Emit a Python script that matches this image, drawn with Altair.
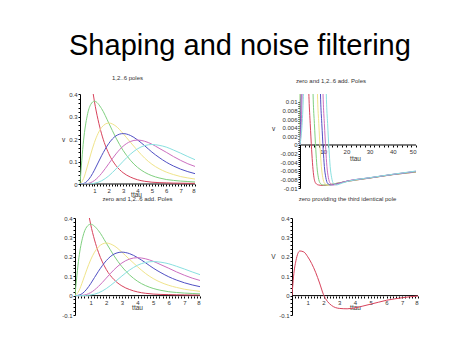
import json
import altair as alt
import pandas as pd

MAIN_TITLE = "Shaping and noise filtering"
SERIES = ["n0", "n1", "n2", "n3", "n4", "n5"]
COLORS = ["#d8435c", "#80d080", "#f0e48a", "#5050c4", "#cc6fc0", "#88e0e0"]

# ---- panels 1 and 3: 1,2..6 poles, t = 0..8 ----
T = [0, 0.25, 0.5, 0.75, 1, 1.5, 2, 2.5, 3, 3.5, 4, 4.5, 5, 5.5, 6, 6.5, 7, 7.5, 8]
RED_T = [0.92, 1, 1.25, 1.5, 2, 2.5, 3, 3.5, 4, 4.5, 5, 5.5, 6, 6.5, 7, 7.5, 8]
RED_V = [0.4, 0.368, 0.287, 0.223, 0.135, 0.082, 0.050, 0.031, 0.019, 0.012, 0.008,
         0.006, 0.005, 0.004, 0.0035, 0.003, 0.003]
N1 = [0, 0.195, 0.303, 0.354, 0.368, 0.335, 0.271, 0.205, 0.149, 0.106, 0.074, 0.052,
      0.037, 0.027, 0.020, 0.016, 0.013, 0.011, 0.009]
N2 = [0, 0.0243, 0.0758, 0.133, 0.184, 0.251, 0.271, 0.257, 0.224, 0.186, 0.149, 0.115,
      0.088, 0.068, 0.053, 0.042, 0.033, 0.027, 0.022]
N3 = [0, 0.002, 0.0126, 0.0332, 0.0613, 0.1255, 0.180, 0.214, 0.224, 0.216, 0.196, 0.170,
      0.142, 0.118, 0.097, 0.080, 0.066, 0.055, 0.046]
N4 = [0, 0.0001, 0.0016, 0.0062, 0.0153, 0.0471, 0.0902, 0.1336, 0.168, 0.1888, 0.1954,
      0.190, 0.177, 0.159, 0.141, 0.122, 0.105, 0.090, 0.078]
N5 = [0, 0, 0.0002, 0.0009, 0.0031, 0.0141, 0.0361, 0.0668, 0.1008, 0.1322, 0.1563,
      0.1707, 0.1755, 0.172, 0.164, 0.151, 0.137, 0.122, 0.108]

# ---- panel 2: zero and 1,2..6 add. poles, t = 0..50 ----
P2_RED_T = [0, 3.0, 3.9, 4.4, 5.0, 5.5, 6.0, 6.8, 8, 10, 14, 20, 30, 40, 50]
P2_RED_V = [0.3, 0.03, 0.0105, 0.005, -0.001, -0.005, -0.0075, -0.0089, -0.0093, -0.0094,
            -0.0091, -0.0085, -0.0077, -0.0069, -0.0063]
P2_GRN_T = [0, 0.02, 0.5, 4.5, 5.7, 6.2, 6.8, 7.3, 7.9, 8.7, 10, 12, 14, 20, 30, 40, 50]
P2_GRN_V = [0, 0.0105, 0.3, 0.05, 0.0105, 0.005, -0.001, -0.005, -0.0075, -0.0089, -0.0093,
            -0.0093, -0.0091, -0.00848, -0.00768, -0.00688, -0.00625]
P2_YEL_T = [0, 0.15, 1.5, 6.4, 7.6, 8.1, 8.7, 9.2, 9.8, 10.6, 11.9, 13, 14.5, 20, 30, 40, 50]
P2_YEL_V = [0, 0.0105, 0.25, 0.05, 0.0105, 0.005, -0.001, -0.005, -0.0075, -0.0089, -0.0093,
            -0.0093, -0.0091, -0.00846, -0.00766, -0.00686, -0.0062]
P2_BLU_T = [0, 0.46, 2.5, 7.7, 8.9, 9.4, 10.0, 10.5, 11.1, 11.9, 13.2, 14.5, 16, 20, 30, 40, 50]
P2_BLU_V = [0, 0.0105, 0.2, 0.05, 0.0105, 0.005, -0.001, -0.005, -0.0075, -0.0089, -0.0093,
            -0.0092, -0.0090, -0.00844, -0.00764, -0.00684, -0.00615]
P2_MAG_T = [0, 0.87, 3.5, 8.8, 10.0, 10.5, 11.1, 11.6, 12.2, 13.0, 14.3, 15.5, 17, 20, 30, 40, 50]
P2_MAG_V = [0, 0.0105, 0.18, 0.05, 0.0105, 0.005, -0.001, -0.005, -0.0075, -0.0089, -0.0093,
            -0.0092, -0.0089, -0.00842, -0.00762, -0.00682, -0.0061]
P2_CYN_T = [0, 1.4, 4.5, 10.2, 11.4, 11.9, 12.5, 13.0, 13.6, 14.4, 15.7, 17, 18.5, 21, 30, 40, 50]
P2_CYN_V = [0, 0.0105, 0.17, 0.05, 0.0105, 0.005, -0.001, -0.005, -0.0075, -0.0089, -0.0093,
            -0.0091, -0.0088, -0.0084, -0.0076, -0.0068, -0.00605]

# ---- panel 4: zero providing the third identical pole ----
P4_T = [0, 0.1, 0.25, 0.5, 0.75, 1, 1.25, 1.5, 1.75, 2, 2.25, 2.5, 3, 3.5, 4, 4.5, 5, 5.5,
        6, 6.5, 7, 7.5, 8]
P4_V = [0, 0.1, 0.18, 0.23, 0.225, 0.2, 0.165, 0.12, 0.065, 0.005, -0.03, -0.05, -0.066,
        -0.068, -0.063, -0.054, -0.044, -0.034, -0.024, -0.017, -0.011, -0.006, -0.002]

# axis ticks
X8_TICKS = [round(i * 0.2, 1) for i in range(0, 41)]
X8_LABELS = [1, 2, 3, 4, 5, 6, 7, 8]
X50_TICKS = [i * 2 for i in range(0, 26)]
X50_LABELS = [10, 20, 30, 40, 50]
Y1_TICKS = [round(i * 0.02, 2) for i in range(0, 21)]
Y1_LABELS = [0, 0.1, 0.2, 0.3, 0.4]
Y3_TICKS = [round(-0.1 + i * 0.02, 2) for i in range(0, 26)]
Y3_LABELS = [-0.1, 0, 0.1, 0.2, 0.3, 0.4]
Y2_TICKS = [round(-0.01 + i * 0.0005, 4) for i in range(0, 41)]
Y2_LABELS = [-0.01, -0.008, -0.006, -0.004, -0.002, 0, 0.002, 0.004, 0.006, 0.008, 0.01]


def frame(pairs):
    rows = []
    for k, (name, ts, vs) in enumerate(pairs):
        for t, v in zip(ts, vs):
            rows.append({"s": name, "k": k, "t": t, "v": v})
    return pd.DataFrame(rows)


df13 = frame([("n0", RED_T, RED_V), ("n1", T, N1), ("n2", T, N2), ("n3", T, N3),
              ("n4", T, N4), ("n5", T, N5)])
df2 = frame([("n0", P2_RED_T, P2_RED_V), ("n1", P2_GRN_T, P2_GRN_V),
             ("n2", P2_YEL_T, P2_YEL_V), ("n3", P2_BLU_T, P2_BLU_V),
             ("n4", P2_MAG_T, P2_MAG_V), ("n5", P2_CYN_T, P2_CYN_V)])
df4 = frame([("n0", P4_T, P4_V)])


def lab(major):
    return ("indexof(" + json.dumps(major) + ", datum.value) >= 0 ? "
            "replace(datum.label, '\u2212', '-') : ''")


def panel(df, w, h, xdom, ydom, xt, xl, yt, yl, title, tdx, toff,
          xoff, yoff, xtitle, xtx, xty, ytitle, ytx, yty, xspan):
    x = alt.X("t:Q", scale=alt.Scale(domain=xdom, nice=False, zero=False),
              axis=alt.Axis(values=xt, labelExpr=lab(xl), format="~g", offset=xoff,
                            domain=False, title=xtitle, titleX=xtx, titleY=xty,
                            titleAlign="center", titleBaseline="middle"))
    y = alt.Y("v:Q", scale=alt.Scale(domain=ydom, nice=False, zero=False),
              axis=alt.Axis(values=yt, labelExpr=lab(yl), format="~g", offset=yoff,
                            title=ytitle, titleX=ytx, titleY=yty, titleAngle=0,
                            titleAlign="center", titleBaseline="middle"))
    lines = alt.Chart(df).mark_line(clip=True, strokeWidth=1, interpolate="monotone").encode(
        x=x, y=y,
        color=alt.Color("s:N", scale=alt.Scale(domain=SERIES, range=COLORS), legend=None),
        detail="k:N",
        order="t:Q",
    )
    axis_line = alt.Chart(pd.DataFrame({"t": [xspan[0]], "t2": [xspan[1]], "v": [0]})).mark_rule(
        color="black", strokeWidth=1
    ).encode(x=x, x2="t2:Q", y=y)
    return alt.layer(axis_line, lines).properties(
        width=w, height=h,
        title=alt.TitleParams(title, fontSize=6, font="Liberation Sans", fontWeight="normal",
                              color="#333", baseline="alphabetic", offset=toff, dx=tdx,
                              anchor="middle"),
    )


p1 = panel(df13, 120, 90, [-0.348, 8], [0, 0.4], X8_TICKS, X8_LABELS, Y1_TICKS, Y1_LABELS,
           "1,2..6 poles", -7.5, 5, 0, -5, "ttau", 61, 10.5, "v", -17, 45, [0, 8])
p2 = panel(df2, 124, 94, [-3.45, 50], [-0.01, 0.01186], X50_TICKS, X50_LABELS, Y2_TICKS,
           Y2_LABELS, "zero and 1,2..6 add. Poles", -23, 5, -43, -8, "ttau", 63, 13,
           "v", -27, 34, [0, 50])
p3 = panel(df13, 125, 97, [0, 8], [-0.1, 0.4], X8_TICKS, X8_LABELS, Y3_TICKS, Y3_LABELS,
           "zero and 1,2..6 add. Poles", 0, 8, -19, 0, "ttau", 62, 11.5, "", 0, 0, [0, 8])
p4 = panel(df4, 126, 97, [0, 8], [-0.1, 0.4], X8_TICKS, X8_LABELS, Y3_TICKS, Y3_LABELS,
           "zero providing the third identical pole", -7.5, 8, -19, 0, "ttau", 63, 11.5,
           "V", -19, 38, [0, 8])

chart = alt.concat(
    p1, p2, p3, p4, columns=2, spacing=alt.RowColnumber(row=30, column=92),
    bounds="flush", align="each",
).properties(
    title=alt.TitleParams(MAIN_TITLE, fontSize=29, font="Liberation Sans", fontWeight="normal",
                          color="black", anchor="middle", baseline="alphabetic", offset=-9),
    padding={"left": 53, "top": 24, "right": 5, "bottom": 5},
    background="white",
).configure_view(stroke=None).configure_axis(
    grid=False, domainColor="black", domainWidth=1, tickColor="black", tickSize=2,
    tickWidth=1, labelFont="Liberation Sans", labelFontSize=6, labelColor="#333",
    labelPadding=1, titleFont="Liberation Sans", titleFontSize=6.5, titleFontWeight="normal",
    titleColor="#333",
)

chart.save("out.html", embed_options={"renderer": "svg", "actions": False})
